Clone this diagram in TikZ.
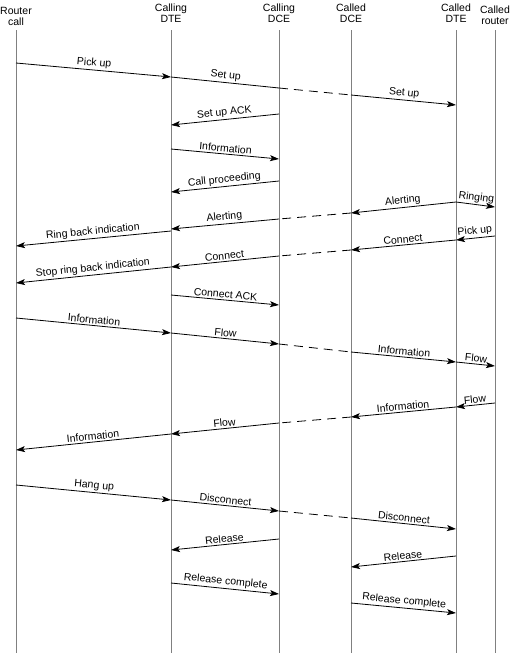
\documentclass[tikz,border=0pt]{standalone}
\usepackage{fontspec}
\setmainfont{Liberation Sans}
\usetikzlibrary{arrows.meta}

\tikzset{
  head/.style={align=center, anchor=south, inner sep=0pt, font=\fontsize{10.5}{11}\selectfont},
  life/.style={gray, line width=0.9pt},
  seg/.style={line width=0.8pt},
  msg/.style={seg, -{Stealth[length=9pt,width=6pt,inset=2pt]}},
  gap/.style={seg, dash pattern=on 9pt off 6pt},
  lbl/.style={sloped, above, inner sep=1.5pt, font=\fontsize{10.5}{12}\selectfont},
}

\begin{document}
\begin{tikzpicture}[x=1pt, y=-1pt]
\useasboundingbox (0,0) rectangle (512,653);

% Stations
\node[head] (rc)  at (16,26)  {Router\\call};
\node[head] (cte) at (171,23) {Calling\\DTE};
\node[head] (cce) at (279,23) {Calling\\DCE};
\node[head] (dce) at (351,23) {Called\\DCE};
\node[head] (dte) at (456,23) {Called\\DTE};
\node[head] (rr)  at (495,25) {Called\\router};

% Lifelines
\foreach \s in {rc,cte,cce,dce,dte,rr} {
  \coordinate (\s-t) at (\s |- 0,30);
  \coordinate (\s-b) at (\s |- 0,653);
  \draw[life] (\s-t) -- (\s-b);
}

% Message end points
\foreach \n/\s/\y in {1/rc/63, 2/cte/77, 3/cce/88, 4/dce/95, 5/dte/105,
    6/cce/114, 7/cte/125, 8/cte/149, 9/cce/159, 10/cce/181, 11/cte/192,
    12/dte/202, 13/rr/207, 14/dce/213, 15/cce/219, 16/cte/229,
    17/cte/231, 18/rc/246, 19/rr/236, 20/dte/240, 21/dce/250, 22/cce/256,
    23/cte/267, 24/rc/283, 25/cte/295, 26/cce/305, 27/rc/318, 28/cte/333,
    29/cce/344, 30/dce/352, 31/dte/362, 32/rr/366, 33/rr/403, 34/dte/407,
    35/dce/417, 36/cce/423, 37/cte/434, 38/rc/450, 39/rc/485, 40/cte/500,
    41/cce/511, 42/dce/518, 43/dte/529, 44/cce/539, 45/cte/550,
    46/dte/556, 47/dce/567, 48/cte/583, 49/cce/594, 50/dce/603, 51/dte/613}
  \coordinate (p\n) at (\s |- 0,\y);

% Call set up
\draw[msg] (p1) -- node[lbl] {Pick up} (p2);
\draw[seg] (p2) -- node[lbl] {Set up} (p3);
\draw[gap] (p3) -- (p4);
\draw[msg] (p4) -- node[lbl] {Set up} (p5);
\draw[msg] (p6) -- node[lbl] {Set up ACK} (p7);
\draw[msg] (p8) -- node[lbl] {Information} (p9);
\draw[msg] (p10) -- node[lbl] {Call proceeding} (p11);

% Alerting
\draw[msg] (p12) -- node[lbl] {Ringing} (p13);
\draw[msg] (p12) -- node[lbl] {Alerting} (p14);
\draw[gap] (p14) -- (p15);
\draw[msg] (p15) -- node[lbl] {Alerting} (p16);
\draw[msg] (p17) -- node[lbl] {Ring back indication} (p18);

% Connect
\draw[msg] (p19) -- node[lbl] {Pick up} (p20);
\draw[msg] (p20) -- node[lbl] {Connect} (p21);
\draw[gap] (p21) -- (p22);
\draw[msg] (p22) -- node[lbl] {Connect} (p23);
\draw[msg] (p23) -- node[lbl] {Stop ring back indication} (p24);
\draw[msg] (p25) -- node[lbl] {Connect ACK} (p26);

% Data transfer
\draw[msg] (p27) -- node[lbl] {Information} (p28);
\draw[msg] (p28) -- node[lbl] {Flow} (p29);
\draw[gap] (p29) -- (p30);
\draw[msg] (p30) -- node[lbl] {Information} (p31);
\draw[msg] (p31) -- node[lbl] {Flow} (p32);
\draw[msg] (p33) -- node[lbl] {Flow} (p34);
\draw[msg] (p34) -- node[lbl] {Information} (p35);
\draw[gap] (p35) -- (p36);
\draw[msg] (p36) -- node[lbl] {Flow} (p37);
\draw[msg] (p37) -- node[lbl] {Information} (p38);

% Clearing
\draw[msg] (p39) -- node[lbl] {Hang up} (p40);
\draw[msg] (p40) -- node[lbl] {Disconnect} (p41);
\draw[gap] (p41) -- (p42);
\draw[msg] (p42) -- node[lbl] {Disconnect} (p43);
\draw[msg] (p44) -- node[lbl] {Release} (p45);
\draw[msg] (p46) -- node[lbl] {Release} (p47);
\draw[msg] (p48) -- node[lbl] {Release complete} (p49);
\draw[msg] (p50) -- node[lbl] {Release complete} (p51);
\end{tikzpicture}
\end{document}
